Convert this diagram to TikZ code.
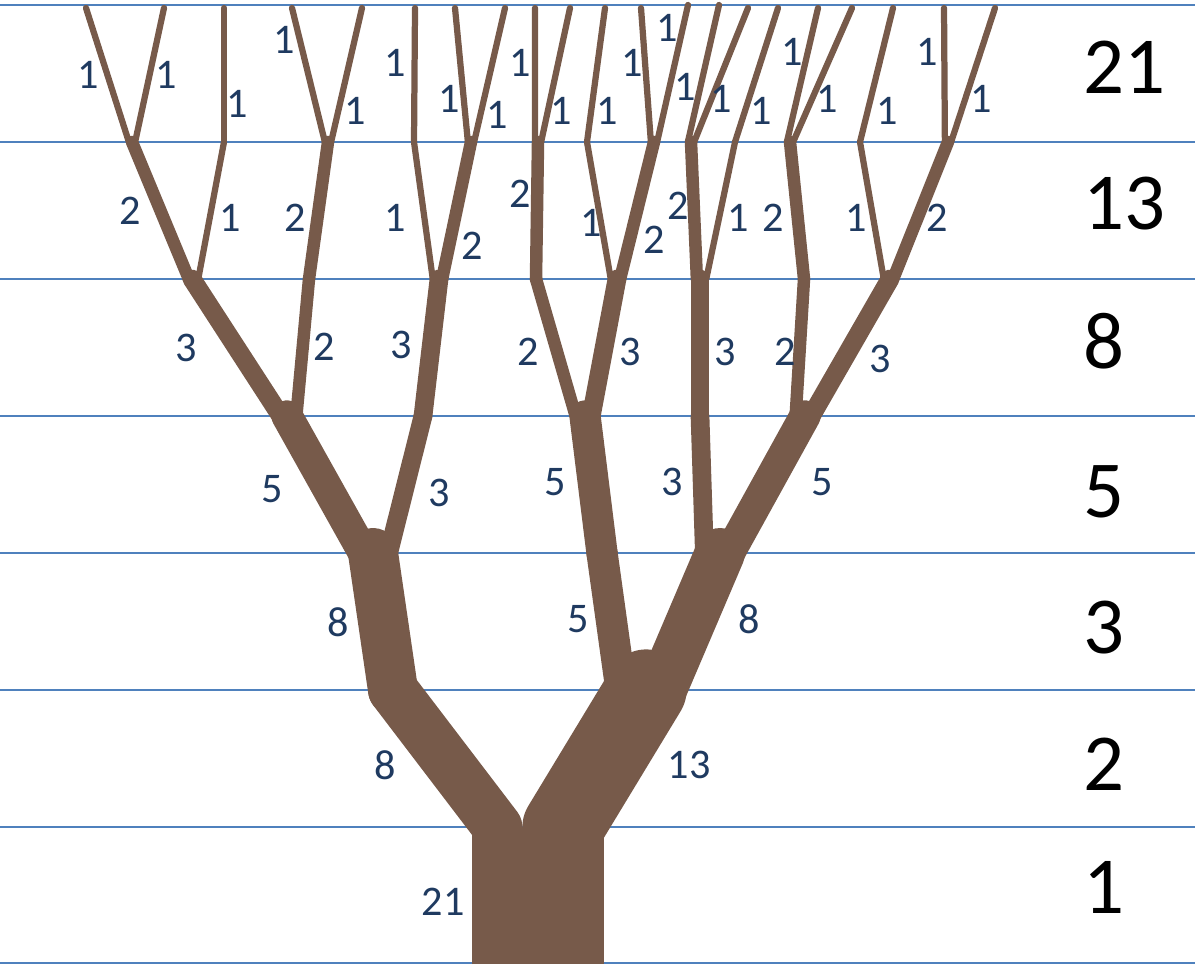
\documentclass[tikz,border=0pt]{standalone}
\usepackage{fontspec}
\setmainfont{Carlito}

\definecolor{bark}{HTML}{775A4A}
\definecolor{rule}{HTML}{4F81BD}
\definecolor{num}{HTML}{1F3A60}

\def\bw{0.0624cm}

\tikzset{
    branch/.style = {draw = bark, line cap = round, line width = #1*\bw},
    rung/.style = {draw = rule, line width = 0.6pt},
    val/.style = {text = num, inner sep = 0pt, font = \fontsize{12}{14}\selectfont},
    rowlabel/.style = {text = black, inner sep = 0pt, anchor = west, font = \fontsize{23}{27}\selectfont}
}

\begin{document}
\begin{tikzpicture}[x = 0.01cm, y = -0.01cm]
        \useasboundingbox (0, 0) rectangle (1195, 964);

        % levels
        \foreach \y in {5, 142, 279, 416, 553, 690, 827, 963}
            \draw [rung] (0, \y) -- (1195, \y);

        % ends of the branches
        \coordinate (r0) at (538, 964);
        \coordinate (r) at (538, 827);
        \coordinate (a1) at (393, 690);
        \coordinate (a2) at (646, 690);
        \coordinate (b1) at (373, 553);
        \coordinate (b2) at (602, 553);
        \coordinate (b3) at (720, 553);
        \coordinate (c1) at (287, 416);
        \coordinate (c2) at (423, 416);
        \coordinate (c3) at (585, 416);
        \coordinate (c4) at (700, 416);
        \coordinate (c5) at (805, 416);
        \coordinate (d1) at (192, 279);
        \coordinate (d2) at (309, 279);
        \coordinate (d3) at (439, 279);
        \coordinate (d4) at (536, 279);
        \coordinate (d5) at (617, 279);
        \coordinate (d6) at (700, 279);
        \coordinate (d7) at (804, 279);
        \coordinate (d8) at (890, 279);
        \coordinate (e1) at (132, 142);
        \coordinate (e2) at (224, 142);
        \coordinate (e3) at (328, 142);
        \coordinate (e4) at (414, 142);
        \coordinate (e5) at (471, 142);
        \coordinate (e6) at (538, 142);
        \coordinate (e7) at (587, 142);
        \coordinate (e8) at (654, 142);
        \coordinate (e9) at (691, 142);
        \coordinate (e10) at (735, 142);
        \coordinate (e11) at (790, 142);
        \coordinate (e12) at (860, 142);
        \coordinate (e13) at (948, 142);
        \coordinate (f1) at (86, 8);
        \coordinate (f2) at (164, 8);
        \coordinate (f3) at (224, 8);
        \coordinate (f4) at (292, 8);
        \coordinate (f5) at (362, 8);
        \coordinate (f6) at (415, 8);
        \coordinate (f7) at (455, 8);
        \coordinate (f8) at (505, 8);
        \coordinate (f9) at (535, 8);
        \coordinate (f10) at (570, 8);
        \coordinate (f11) at (605, 8);
        \coordinate (f12) at (641, 8);
        \coordinate (f13) at (688, 5);
        \coordinate (f14) at (719, 5);
        \coordinate (f15) at (748, 8);
        \coordinate (f16) at (778, 8);
        \coordinate (f17) at (818, 8);
        \coordinate (f18) at (852, 8);
        \coordinate (f19) at (893, 8);
        \coordinate (f20) at (944, 8);
        \coordinate (f21) at (995, 8);

        % tree
        \draw [branch = 21, line cap = butt] (r0) -- (r);
        \path
            ([xshift = -6.5*\bw] r) edge [branch = 8] (a1)
            ([xshift = 4*\bw] r) edge [branch = 13] (a2)

            (a1) edge [branch = 8] (b1)
            ([xshift = -4*\bw] a2) edge [branch = 5] (b2)
            ([xshift = 2.5*\bw] a2) edge [branch = 8] (b3)

            ([xshift = -1.5*\bw] b1) edge [branch = 5] (c1)
            ([xshift = 2.5*\bw] b1) edge [branch = 3] (c2)
            (b2) edge [branch = 5] (c3)
            ([xshift = -2.5*\bw] b3) edge [branch = 3] (c4)
            ([xshift = 1.5*\bw] b3) edge [branch = 5] (c5)

            ([xshift = -1*\bw] c1) edge [branch = 3] (d1)
            ([xshift = 1.5*\bw] c1) edge [branch = 2] (d2)
            (c2) edge [branch = 3] (d3)
            ([xshift = -1.5*\bw] c3) edge [branch = 2] (d4)
            ([xshift = 1*\bw] c3) edge [branch = 3] (d5)
            (c4) edge [branch = 3] (d6)
            ([xshift = -1.5*\bw] c5) edge [branch = 2] (d7)
            ([xshift = 1*\bw] c5) edge [branch = 3] (d8)

            ([xshift = -0.5*\bw] d1) edge [branch = 2] (e1)
            ([xshift = 1*\bw] d1) edge [branch = 1] (e2)
            (d2) edge [branch = 2] (e3)
            ([xshift = -1*\bw] d3) edge [branch = 1] (e4)
            ([xshift = 0.5*\bw] d3) edge [branch = 2] (e5)
            (d4) edge [branch = 2] (e6)
            ([xshift = -1*\bw] d5) edge [branch = 1] (e7)
            ([xshift = 0.5*\bw] d5) edge [branch = 2] (e8)
            ([xshift = -0.5*\bw] d6) edge [branch = 2] (e9)
            ([xshift = 1*\bw] d6) edge [branch = 1] (e10)
            (d7) edge [branch = 2] (e11)
            ([xshift = -1*\bw] d8) edge [branch = 1] (e12)
            ([xshift = 0.5*\bw] d8) edge [branch = 2] (e13)

            ([xshift = -0.5*\bw] e1) edge [branch = 1] (f1)
            ([xshift = 0.5*\bw] e1) edge [branch = 1] (f2)
            (e2) edge [branch = 1] (f3)
            ([xshift = -0.5*\bw] e3) edge [branch = 1] (f4)
            ([xshift = 0.5*\bw] e3) edge [branch = 1] (f5)
            (e4) edge [branch = 1] (f6)
            ([xshift = -0.5*\bw] e5) edge [branch = 1] (f7)
            ([xshift = 0.5*\bw] e5) edge [branch = 1] (f8)
            ([xshift = -0.5*\bw] e6) edge [branch = 1] (f9)
            ([xshift = 0.5*\bw] e6) edge [branch = 1] (f10)
            (e7) edge [branch = 1] (f11)
            ([xshift = -0.5*\bw] e8) edge [branch = 1] (f12)
            ([xshift = 0.5*\bw] e8) edge [branch = 1] (f13)
            ([xshift = -0.5*\bw] e9) edge [branch = 1] (f14)
            ([xshift = 0.5*\bw] e9) edge [branch = 1] (f15)
            (e10) edge [branch = 1] (f16)
            ([xshift = -0.5*\bw] e11) edge [branch = 1] (f17)
            ([xshift = 0.5*\bw] e11) edge [branch = 1] (f18)
            (e12) edge [branch = 1] (f19)
            ([xshift = -0.5*\bw] e13) edge [branch = 1] (f20)
            ([xshift = 0.5*\bw] e13) edge [branch = 1] (f21)
        ;

        % branch values
        \node [val] (vr) at (443, 902) {21};
        \node [val] (va1) at (385, 765) {8};
        \node [val] (va2) at (689, 765) {13};
        \node [val] (vb1) at (338, 622) {8};
        \node [val] (vb2) at (578, 619) {5};
        \node [val] (vb3) at (749, 619) {8};
        \node [val] (vc1) at (272, 489) {5};
        \node [val] (vc2) at (439, 493) {3};
        \node [val] (vc3) at (555, 482) {5};
        \node [val] (vc4) at (672, 482) {3};
        \node [val] (vc5) at (822, 482) {5};
        \node [val] (vd1) at (186, 348) {3};
        \node [val] (vd2) at (324, 347) {2};
        \node [val] (vd3) at (401, 345) {3};
        \node [val] (vd4) at (528, 352) {2};
        \node [val] (vd5) at (630, 352) {3};
        \node [val] (vd6) at (725, 352) {3};
        \node [val] (vd7) at (785, 352) {2};
        \node [val] (vd8) at (880, 359) {3};
        \node [val] (ve1) at (130, 211) {2};
        \node [val] (ve2) at (230, 218) {1};
        \node [val] (ve3) at (295, 218) {2};
        \node [val] (ve4) at (395, 218) {1};
        \node [val] (ve5) at (472, 246) {2};
        \node [val] (ve6) at (520, 194) {2};
        \node [val] (ve7) at (591, 223) {1};
        \node [val] (ve8) at (654, 240) {2};
        \node [val] (ve9) at (678, 206) {2};
        \node [val] (ve10) at (738, 218) {1};
        \node [val] (ve11) at (773, 218) {2};
        \node [val] (ve12) at (856, 218) {1};
        \node [val] (ve13) at (937, 218) {2};
        \node [val] (vf1) at (88, 75) {1};
        \node [val] (vf2) at (166, 75) {1};
        \node [val] (vf3) at (237, 104) {1};
        \node [val] (vf4) at (284, 40) {1};
        \node [val] (vf5) at (355, 111) {1};
        \node [val] (vf6) at (395, 63) {1};
        \node [val] (vf7) at (449, 99) {1};
        \node [val] (vf8) at (497, 115) {1};
        \node [val] (vf9) at (520, 63) {1};
        \node [val] (vf10) at (561, 111) {1};
        \node [val] (vf11) at (607, 111) {1};
        \node [val] (vf12) at (632, 63) {1};
        \node [val] (vf13) at (667, 28) {1};
        \node [val] (vf14) at (685, 87) {1};
        \node [val] (vf15) at (721, 99) {1};
        \node [val] (vf16) at (761, 111) {1};
        \node [val] (vf17) at (792, 52) {1};
        \node [val] (vf18) at (827, 99) {1};
        \node [val] (vf19) at (887, 111) {1};
        \node [val] (vf20) at (927, 52) {1};
        \node [val] (vf21) at (981, 99) {1};

        % number of branches per level
        \node [rowlabel] (h21) at (1083, 67) {21};
        \node [rowlabel] (h13) at (1083, 204) {13};
        \node [rowlabel] (h8) at (1083, 341) {8};
        \node [rowlabel] (h5) at (1083, 492) {5};
        \node [rowlabel] (h3) at (1083, 628) {3};
        \node [rowlabel] (h2) at (1083, 764) {2};
        \node [rowlabel] (h1) at (1083, 887) {1};
    \end{tikzpicture}
\end{document}
